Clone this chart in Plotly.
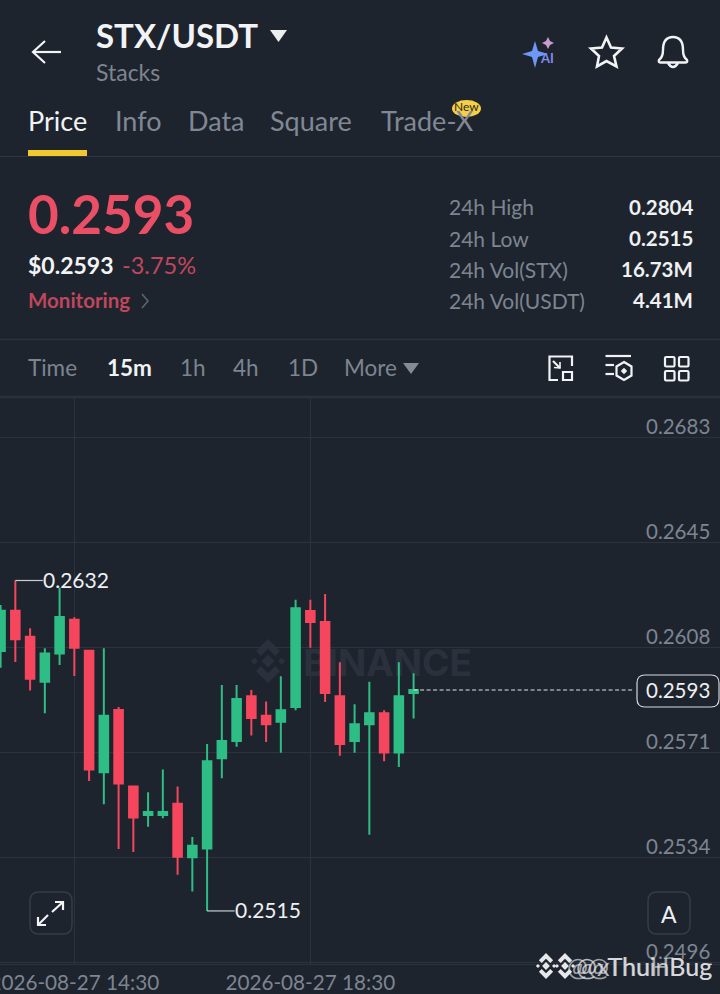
import plotly.graph_objects as go
from datetime import datetime, timedelta

# 15m candles
times = ["2026-08-27 13:15", "2026-08-27 13:30", "2026-08-27 13:45", "2026-08-27 14:00",
         "2026-08-27 14:15", "2026-08-27 14:30", "2026-08-27 14:45", "2026-08-27 15:00",
         "2026-08-27 15:15", "2026-08-27 15:30", "2026-08-27 15:45", "2026-08-27 16:00",
         "2026-08-27 16:15", "2026-08-27 16:30", "2026-08-27 16:45", "2026-08-27 17:00",
         "2026-08-27 17:15", "2026-08-27 17:30", "2026-08-27 17:45", "2026-08-27 18:00",
         "2026-08-27 18:15", "2026-08-27 18:30", "2026-08-27 18:45", "2026-08-27 19:00",
         "2026-08-27 19:15", "2026-08-27 19:30", "2026-08-27 19:45", "2026-08-27 20:00",
         "2026-08-27 20:15"]
opens = [0.26069, 0.26212, 0.2612, 0.25959, 0.2606, 0.2618, 0.2607, 0.25637, 0.25859, 0.25586,
         0.25485, 0.25485, 0.25525, 0.25334, 0.25365, 0.25687, 0.25748, 0.25908, 0.25838, 0.25817,
         0.25869, 0.26211, 0.26172, 0.25908, 0.25748, 0.25808, 0.25847, 0.25707, 0.25919]
highs = [0.26233, 0.2632, 0.2615, 0.26079, 0.26294, 0.26189, 0.2607, 0.26079, 0.25869, 0.25586,
         0.25566, 0.25647, 0.25586, 0.25406, 0.25738, 0.25948, 0.25948, 0.2593, 0.25889, 0.25979,
         0.26251, 0.26251, 0.26272, 0.26029, 0.25879, 0.25959, 0.25858, 0.26029, 0.2599]
lows = [0.26009, 0.2603, 0.25928, 0.25847, 0.26019, 0.2598, 0.25606, 0.25523, 0.25364, 0.25353,
        0.25443, 0.25473, 0.25272, 0.25212, 0.25143, 0.25616, 0.25728, 0.25768, 0.25745, 0.25706,
        0.25858, 0.2608, 0.25887, 0.25696, 0.25706, 0.25414, 0.25676, 0.25656, 0.25828]
closes = [0.26212, 0.26111, 0.2597, 0.2606, 0.2619, 0.2608, 0.25647, 0.25838, 0.25597, 0.25476,
          0.25495, 0.25495, 0.25336, 0.25375, 0.25676, 0.25748, 0.25898, 0.2583, 0.25808, 0.25858,
          0.26221, 0.26172, 0.25919, 0.25738, 0.25808, 0.25847, 0.25707, 0.25908, 0.2593]

# grid lines sit at unrounded prices, the labels show them rounded
price_ticks = [0.26828, 0.26454, 0.2608, 0.25706, 0.25332, 0.24958]
price_labels = ["0.2683", "0.2645", "0.2608", "0.2571", "0.2534", "0.2496"]
time_ticks = ["2026-08-27 14:30", "2026-08-27 18:30"]
time_labels = ["2026-08-27 14:30", "2026-08-27 18:30"]
last_price = 0.2593
extreme_labels = ["0.2632", "0.2515"]

tabs = ["Price", "Info", "Data", "Square", "Trade-X"]
tab_x = [28, 115, 188, 270, 381]
periods = ["Time", "15m", "1h", "4h", "1D", "More"]
period_x = [28, 107, 180, 233, 288, 344]
stat_names = ["24h High", "24h Low", "24h Vol(STX)", "24h Vol(USDT)"]
stat_values = ["0.2804", "0.2515", "16.73M", "4.41M"]

W, H = 720, 994
BG = "#1e242e"
GRID = "#2d333e"
RED = "#f6465d"
GREEN = "#2ebd85"
GREY = "#7d8591"
FONT = "Lato"


def P(x, y):
    return f"{x / W:.5f},{1 - y / H:.5f}"


def path(points, close=False):
    return "M" + " L".join(P(x, y) for x, y in points) + (" Z" if close else "")


def rrect(x0, y0, x1, y1, r):
    return (f"M{P(x0 + r, y0)} L{P(x1 - r, y0)} Q{P(x1, y0)} {P(x1, y0 + r)} "
            f"L{P(x1, y1 - r)} Q{P(x1, y1)} {P(x1 - r, y1)} "
            f"L{P(x0 + r, y1)} Q{P(x0, y1)} {P(x0, y1 - r)} "
            f"L{P(x0, y0 + r)} Q{P(x0, y0)} {P(x0 + r, y0)} Z")


def diamond(cx, cy, r):
    return path([(cx, cy - r), (cx + r, cy), (cx, cy + r), (cx - r, cy)], True)


def logo(cx, cy, r, color, layer="above"):
    # small version of the exchange mark: centre and four side diamonds
    for dx, dy, s in [(0, 0, 0.3), (-0.62, 0, 0.16), (0.62, 0, 0.16)]:
        shapes.append(fill_shape(diamond(cx + dx * r, cy + dy * r, s * r), color, layer))
    shapes.append(fill_shape(path([(cx, cy - r), (cx + 0.55 * r, cy - 0.45 * r), (cx + 0.33 * r, cy - 0.23 * r),
                                   (cx, cy - 0.56 * r), (cx - 0.33 * r, cy - 0.23 * r),
                                   (cx - 0.55 * r, cy - 0.45 * r)], True), color, layer))
    shapes.append(fill_shape(path([(cx, cy + r), (cx + 0.55 * r, cy + 0.45 * r), (cx + 0.33 * r, cy + 0.23 * r),
                                   (cx, cy + 0.56 * r), (cx - 0.33 * r, cy + 0.23 * r),
                                   (cx - 0.55 * r, cy + 0.45 * r)], True), color, layer))


def fill_shape(d, color, layer="above"):
    return dict(type="path", xref="paper", yref="paper", path=d, fillcolor=color, line_width=0, layer=layer)


def stroke(d, color="#f1f3f5", width=2.2):
    shapes.append(dict(type="path", xref="paper", yref="paper", path=d, line=dict(color=color, width=width)))


def hline(y, color, width=1, x0=0, x1=W):
    shapes.append(dict(type="line", xref="paper", yref="paper", x0=x0 / W, x1=x1 / W, y0=1 - y / H, y1=1 - y / H,
                       line=dict(color=color, width=width)))


def text(x, y, s, size, color, anchor="left", bold=False):
    # Lato sits a little low and annotations keep a small pad
    dx = {"left": -1.5, "right": 1.5, "center": 0}[anchor]
    annotations.append(dict(xref="paper", yref="paper", x=(x + dx) / W, y=1 - (y - 1.5) / H,
                            text=f"<b>{s}</b>" if bold else s,
                            showarrow=False, xanchor=anchor, yanchor="middle", borderpad=0,
                            font=dict(family=FONT, size=size, color=color)))


shapes = []
annotations = []

# header
stroke(path([(61, 52), (33, 52)]))
stroke(path([(45, 41), (33, 52), (45, 63)]))
text(96, 36, "STX/USDT", 33, "#f2f3f5", bold=True)
shapes.append(fill_shape(path([(270, 30), (287, 30), (278.5, 42)], True), "#eceef0"))
text(96, 74, "Stacks", 23, GREY)

shapes.append(fill_shape(path([(535, 41), (538, 51), (548, 54), (538, 57), (535, 68), (532, 57), (522, 54), (532, 51)], True), "#6f97f5"))
shapes.append(fill_shape(path([(548, 37), (550, 41), (554, 43), (550, 45), (548, 49), (546, 45), (542, 43), (546, 41)], True), "#c99bd0"))
text(547, 60, "AI", 13, "#7f8cf2", "center", bold=True)
stroke(path([(606.5, 37.5), (611, 47.5), (622, 48.5), (614, 56), (616.5, 66.5), (606.5, 61), (597, 66.5), (599, 56),
             (591, 48.5), (602, 47.5)], True), width=2.6)
stroke(f"M{P(659, 60)} Q{P(663, 57)} {P(663, 50)} Q{P(663, 37)} {P(673, 37)} Q{P(683, 37)} {P(683, 50)} "
       f"Q{P(683, 57)} {P(687, 60)} Q{P(688, 62.5)} {P(685, 62.5)} L{P(661, 62.5)} Q{P(658, 62.5)} {P(659, 60)} Z", width=2.4)
stroke(f"M{P(668, 63)} Q{P(673, 71)} {P(678, 63)}", width=2.4)

for i, t in enumerate(tabs):
    text(tab_x[i], 122, t, 27, "#f2f3f5" if i == 0 else "#808895")
shapes.append(fill_shape(path([(28, 150), (87, 150), (87, 156), (28, 156)], True), "#f0c930"))
hline(156.5, "#30363f")
shapes.append(dict(type="circle", xref="paper", yref="paper", x0=452 / W, x1=481 / W, y0=1 - 117 / H, y1=1 - 100 / H,
                   fillcolor="#f5cf45", line_width=0))
text(466, 108.5, "New", 12, "#2a2a20", "center")

# price block
text(28, 215, "0.2593", 53, "#ea4f66", bold=True)
text(28, 266, "$0.2593", 23, "#f2f3f5", bold=True)
text(122, 266, "-3.75%", 23.5, "#c0475e")
text(28, 301, "Monitoring", 20.5, "#bf465d", bold=True)
stroke(path([(142, 294), (148, 301), (142, 308)]), "#5d6470", 1.6)

for i in range(4):
    y = 208.5 + 31 * i
    text(449, y, stat_names[i], 21, GREY)
    text(692, y, stat_values[i], 20.5, "#eef0f2", "right", bold=True)
hline(339.5, "#2c323c", 1.5)

# period bar
for i, t in enumerate(periods):
    text(period_x[i], 369, t, 22.5, "#f2f3f5" if t == "15m" else GREY, bold=t == "15m")
shapes.append(fill_shape(path([(403, 363), (419, 363), (411, 374)], True), "#848b96"))

stroke(path([(572, 366), (572, 356.5), (549.5, 356.5), (549.5, 380), (558, 380)]))
stroke(path([(563, 372), (572, 372), (572, 380), (563, 380)], True))
stroke(path([(553, 361), (560, 368)]))
stroke(path([(554, 367.5), (560, 368), (560, 362)]), width=1.6)
stroke(path([(605.5, 356), (631, 356)]))
stroke(path([(605.5, 365), (614, 365)]))
stroke(path([(605.5, 374), (614, 374)]))
stroke(path([(624, 362), (631.5, 366.5), (631.5, 375.5), (624, 380), (616.5, 375.5), (616.5, 366.5)], True))
shapes.append(fill_shape(diamond(624, 371, 3.2), "#f1f3f5"))
for x0 in (665, 679):
    for y0 in (357, 371):
        stroke(rrect(x0, y0, x0 + 9.5, y0 + 9.5, 1.2))
hline(397, "#2b313b", 2.5)

# chart furniture
shapes.append(dict(type="rect", xref="paper", yref="paper", x0=303 / W, x1=472 / W, y0=1 - 678 / H, y1=1 - 644 / H,
                   line_width=0, layer="below",
                   label=dict(text="<b>BINANCE</b>", textposition="middle center",
                              font=dict(family="Inter", size=37, color="#2b313c"))))
logo(268, 661, 22, "#2b313c", "below")

stroke(rrect(30, 892, 72, 934, 9), "#353c47", 1.5)
stroke(path([(52, 912), (63, 902)]))
stroke(path([(55, 902), (63, 902), (63, 910)]))
stroke(path([(48, 915), (38, 925)]))
stroke(path([(38, 917), (38, 925), (46, 925)]))
stroke(rrect(648, 892, 690, 934, 9), "#353c47", 1.5)
text(669, 915, "A", 23, "#eef0f2", "center")

# axis labels sit above their grid lines, inside the plot
for p, s in zip(price_ticks, price_labels):
    annotations.append(dict(xref="paper", yref="y", x=712 / W, y=p, yshift=12, text=s, showarrow=False,
                            xanchor="right", yanchor="middle",
                            font=dict(family=FONT, size=20.5, color=GREY)))

# high / low markers, picked from the candles
i_hi = highs.index(max(highs[:5]))
i_lo = lows.index(min(lows))
for i, v, s in [(i_hi, highs[i_hi], extreme_labels[0]), (i_lo, lows[i_lo], extreme_labels[1])]:
    t = datetime.strptime(times[i], "%Y-%m-%d %H:%M")
    shapes.append(dict(type="line", xref="x", yref="y", x0=t, x1=t + timedelta(minutes=28), y0=v, y1=v,
                       line=dict(color="#c9ced4", width=1.2)))
    annotations.append(dict(xref="x", yref="y", x=t, y=v, xshift=26, yshift=1, text=s, showarrow=False, xanchor="left",
                            yanchor="middle", font=dict(family=FONT, size=21, color="#eef0f2")))

# last price line and box
shapes.append(dict(type="line", xref="x", yref="y", x0=times[-1], x1="2026-08-27 23:58", y0=last_price, y1=last_price,
                   line=dict(color="#dfe2e6", width=1.2, dash="4px,2.5px")))
shapes.append(dict(type="path", xref="paper", yref="paper", path=rrect(637, 675, 719, 707, 8), fillcolor=BG,
                   line=dict(color="#d5d8dc", width=1.2)))
text(678, 691, f"{last_price:.4f}", 20.5, "#eef0f2", "center")

# overlaid share watermark, bottom right
logo(546, 966, 13, "#e6e8ea")
logo(565, 966, 13, "#e6e8ea")
text(711, 967, "@xThuinBug", 25, "rgba(235,236,238,0.75)", "right")
text(711, 967, "@@ThuHBug", 25, "rgba(235,236,238,0.65)", "right")

fig = go.Figure(go.Candlestick(
    x=times, open=opens, high=highs, low=lows, close=closes,
    increasing=dict(line=dict(color=GREEN, width=2), fillcolor=GREEN),
    decreasing=dict(line=dict(color=RED, width=2), fillcolor=RED),
    whiskerwidth=0,
    showlegend=False,
))

fig.update_layout(
    width=W, height=H,
    margin=dict(l=0, r=0, t=0, b=0, autoexpand=False),
    paper_bgcolor=BG, plot_bgcolor=BG,
    boxgap=0.17,
    showlegend=False,
    shapes=shapes,
    annotations=annotations,
    xaxis=dict(
        type="date", domain=[0, 1],
        range=["2026-08-27 13:14:24", "2026-08-28 01:26:36"],
        rangeslider=dict(visible=False),
        tickmode="array", tickvals=time_ticks, ticktext=time_labels,
        tickfont=dict(family=FONT, size=20.7, color=GREY),
        ticks="", ticklabeloverflow="allow",
        showgrid=True, gridcolor=GRID, gridwidth=1,
        showline=True, linecolor=GRID, linewidth=1,
        zeroline=False,
    ),
    yaxis=dict(
        domain=[1 - 964 / H, 1 - 398 / H],
        range=[0.24954, 0.26970],
        tickmode="array", tickvals=price_ticks,
        showticklabels=False, ticks="",
        showgrid=True, gridcolor=GRID, gridwidth=1,
        zeroline=False,
    ),
)

fig.write_html("out.html", config=dict(displayModeBar=False),
               post_script="document.body.style.margin='0';document.body.style.background='%s';" % BG)
